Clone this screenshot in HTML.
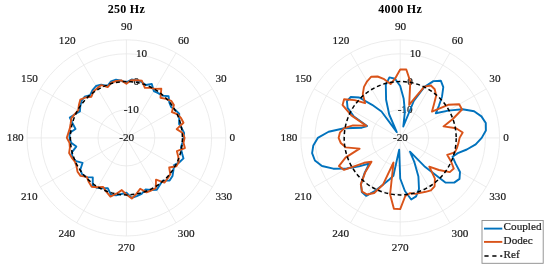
<!DOCTYPE html>
<html><head><meta charset="utf-8"><title>Polar directivity</title>
<style>
html,body{margin:0;padding:0;background:#fff;}
svg{display:block}
.lab text{font-family:"Liberation Serif",serif;font-size:11.2px;fill:#1a1a1a;stroke:#1a1a1a;stroke-width:0.2px}
.ttl{font-family:"Liberation Serif",serif;font-size:12px;font-weight:bold;fill:#000;letter-spacing:0.3px}
</style></head><body>
<svg width="550" height="271" viewBox="0 0 550 271">
<rect width="550" height="271" fill="#fff"/>
<g fill="none" stroke="#e7e7e7" stroke-width="0.8"><ellipse cx="126.4" cy="137.9" rx="28.40" ry="28.03"/><ellipse cx="126.4" cy="137.9" rx="56.80" ry="56.06"/><ellipse cx="126.4" cy="137.9" rx="85.20" ry="84.09"/><ellipse cx="126.4" cy="137.9" rx="99.40" ry="98.10"/><line x1="126.4" y1="137.9" x2="225.8" y2="137.9"/><line x1="126.4" y1="137.9" x2="212.5" y2="88.9"/><line x1="126.4" y1="137.9" x2="176.1" y2="52.9"/><line x1="126.4" y1="137.9" x2="126.4" y2="39.8"/><line x1="126.4" y1="137.9" x2="76.7" y2="52.9"/><line x1="126.4" y1="137.9" x2="40.3" y2="88.9"/><line x1="126.4" y1="137.9" x2="27.0" y2="137.9"/><line x1="126.4" y1="137.9" x2="40.3" y2="187.0"/><line x1="126.4" y1="137.9" x2="76.7" y2="222.9"/><line x1="126.4" y1="137.9" x2="126.4" y2="236.0"/><line x1="126.4" y1="137.9" x2="176.1" y2="222.9"/><line x1="126.4" y1="137.9" x2="212.5" y2="187.0"/></g><g class="lab" text-anchor="middle"><text x="232.2" y="140.7">0</text><text x="221.1" y="81.6">30</text><text x="183.6" y="44.0">60</text><text x="126.7" y="30.2">90</text><text x="67.2" y="44.3">120</text><text x="29.5" y="82.1">150</text><text x="15.2" y="140.7">180</text><text x="29.3" y="199.6">210</text><text x="66.8" y="237.3">240</text><text x="126.4" y="251.1">270</text><text x="186.2" y="237.0">300</text><text x="223.8" y="199.7">330</text><text x="141.5" y="56.5">10</text><text x="136.3" y="84.9">0</text><text x="131.3" y="112.8">-10</text><text x="126.7" y="140.8">-20</text></g><text class="ttl" text-anchor="middle" x="126.4" y="13">250 Hz</text>
<path d="M183.5 137.9 L184.1 132.9 L181.8 128.3 L179.1 124.0 L179.2 118.9 L179.2 113.6 L175.3 110.0 L171.1 107.0 L169.3 102.4 L168.6 96.3 L162.4 95.6 L158.2 93.1 L153.8 91.1 L151.8 84.0 L145.9 85.0 L141.6 81.9 L136.7 80.5 L131.6 79.5 L126.4 82.4 L121.3 80.7 L116.0 79.7 L111.0 81.3 L107.3 86.0 L101.2 84.6 L96.0 86.0 L92.5 90.1 L90.1 95.2 L84.6 96.7 L81.6 100.8 L80.3 106.1 L79.9 111.4 L74.9 114.2 L69.8 117.6 L72.9 123.8 L75.5 129.0 L69.5 133.0 L69.6 137.9 L71.2 142.7 L76.3 146.6 L71.8 152.3 L72.5 157.3 L76.0 161.1 L82.6 162.8 L80.3 169.7 L82.2 174.5 L86.6 177.1 L92.8 177.4 L92.7 185.4 L97.1 187.9 L102.6 188.2 L107.8 188.2 L111.0 194.8 L116.1 195.3 L121.4 194.0 L126.4 192.6 L131.7 197.9 L136.8 196.1 L141.6 193.9 L145.4 189.5 L151.0 190.0 L156.8 189.8 L159.8 185.0 L162.7 180.6 L169.6 180.5 L172.5 176.1 L173.4 170.4 L174.1 165.1 L179.4 162.3 L183.5 158.4 L181.8 152.6 L180.9 147.4 L182.4 142.7 Z" fill="none" stroke="#0072bd" stroke-width="1.9" stroke-linejoin="round"/><path d="M184.6 137.9 L182.7 133.0 L176.7 129.1 L183.5 122.8 L181.1 118.2 L177.6 114.3 L171.9 112.0 L173.9 105.1 L171.2 100.8 L166.0 98.9 L160.5 97.7 L161.3 88.8 L155.1 88.9 L150.0 87.9 L144.9 87.9 L141.9 80.8 L136.7 80.2 L131.5 80.1 L126.4 83.8 L121.3 80.4 L116.2 81.0 L111.4 82.7 L107.7 87.1 L101.4 85.1 L97.3 88.1 L93.5 91.5 L91.4 96.7 L85.4 97.5 L80.3 99.7 L78.9 105.1 L78.2 110.4 L74.7 114.1 L71.4 118.2 L70.7 123.2 L69.9 128.1 L68.4 132.9 L66.8 137.9 L69.5 142.8 L69.9 147.7 L69.1 153.1 L71.7 157.6 L74.9 161.6 L76.5 166.3 L77.5 171.7 L80.5 175.9 L86.8 176.9 L88.8 182.1 L91.7 186.8 L97.6 187.2 L103.2 186.9 L106.5 191.9 L110.4 196.6 L116.4 193.7 L121.8 190.1 L126.4 194.5 L131.8 198.5 L136.4 193.9 L140.2 188.8 L146.5 192.4 L151.2 190.5 L155.8 188.1 L156.0 179.7 L164.4 182.6 L167.6 178.5 L170.3 174.3 L169.2 167.5 L176.3 166.3 L178.9 162.1 L178.2 156.5 L176.9 151.2 L184.9 148.1 L183.5 142.8 Z" fill="none" stroke="#d95319" stroke-width="1.9" stroke-linejoin="round"/><ellipse cx="126.4" cy="138.2" rx="56.00" ry="56.70" fill="none" stroke="#000" stroke-width="1.5" stroke-dasharray="3.9 2.8"/>
<g fill="none" stroke="#e7e7e7" stroke-width="0.8"><ellipse cx="400.2" cy="137.9" rx="28.40" ry="28.03"/><ellipse cx="400.2" cy="137.9" rx="56.80" ry="56.06"/><ellipse cx="400.2" cy="137.9" rx="85.20" ry="84.09"/><ellipse cx="400.2" cy="137.9" rx="99.40" ry="98.10"/><line x1="400.2" y1="137.9" x2="499.6" y2="137.9"/><line x1="400.2" y1="137.9" x2="486.3" y2="88.9"/><line x1="400.2" y1="137.9" x2="449.9" y2="52.9"/><line x1="400.2" y1="137.9" x2="400.2" y2="39.8"/><line x1="400.2" y1="137.9" x2="350.5" y2="52.9"/><line x1="400.2" y1="137.9" x2="314.1" y2="88.9"/><line x1="400.2" y1="137.9" x2="300.8" y2="137.9"/><line x1="400.2" y1="137.9" x2="314.1" y2="187.0"/><line x1="400.2" y1="137.9" x2="350.5" y2="222.9"/><line x1="400.2" y1="137.9" x2="400.2" y2="236.0"/><line x1="400.2" y1="137.9" x2="449.9" y2="222.9"/><line x1="400.2" y1="137.9" x2="486.3" y2="187.0"/></g><g class="lab" text-anchor="middle"><text x="506.0" y="140.7">0</text><text x="494.9" y="81.6">30</text><text x="457.4" y="44.0">60</text><text x="400.5" y="30.2">90</text><text x="341.0" y="44.3">120</text><text x="303.3" y="82.1">150</text><text x="289.0" y="140.7">180</text><text x="303.1" y="199.6">210</text><text x="340.6" y="237.3">240</text><text x="400.2" y="251.1">270</text><text x="460.0" y="237.0">300</text><text x="497.6" y="199.7">330</text><text x="415.3" y="56.5">10</text><text x="410.1" y="84.9">0</text><text x="405.1" y="112.8">-10</text><text x="400.5" y="140.8">-20</text></g><text class="ttl" text-anchor="middle" x="400.2" y="13">4000 Hz</text>
<path d="M481.7 137.9 L485.9 130.5 L485.8 123.0 L481.4 116.4 L474.1 111.3 L462.5 109.2 L448.2 110.6 L435.8 113.3 L438.9 105.8 L442.0 96.7 L443.3 87.2 L440.8 80.7 L433.4 81.1 L424.2 87.1 L413.8 101.0 L403.3 126.5 L404.9 111.7 L403.7 98.8 L400.2 86.0 L395.0 78.7 L389.4 77.4 L385.8 84.8 L386.1 99.7 L389.2 114.5 L396.8 132.1 L381.5 111.5 L372.1 104.8 L359.2 97.5 L350.8 97.0 L346.9 101.1 L347.6 107.9 L353.9 116.6 L367.1 126.0 L361.8 127.7 L344.3 128.2 L328.6 131.7 L317.8 137.9 L313.3 145.4 L312.1 153.2 L314.9 160.5 L322.0 166.0 L333.3 168.7 L346.6 168.5 L359.0 166.4 L369.3 163.5 L364.5 173.2 L361.0 184.1 L361.8 192.1 L366.3 195.9 L375.2 190.7 L382.9 184.8 L388.7 180.1 L393.4 175.7 L399.2 149.6 L400.2 178.5 L404.9 191.0 L411.2 199.5 L416.1 196.4 L419.0 189.0 L418.4 176.5 L414.4 162.2 L410.0 151.7 L424.3 166.2 L445.4 182.5 L454.2 182.6 L459.5 178.9 L460.0 172.0 L455.5 163.4 L452.5 156.7 L457.8 153.1 L466.8 149.5 L475.7 144.4 Z" fill="none" stroke="#0072bd" stroke-width="1.9" stroke-linejoin="round"/><path d="M459.6 137.9 L462.7 132.5 L456.1 128.2 L443.5 126.4 L452.8 119.0 L462.0 109.5 L459.2 104.3 L448.1 104.8 L432.0 111.6 L433.9 104.6 L436.2 95.6 L434.7 89.2 L430.9 85.5 L424.4 86.6 L415.1 97.6 L409.2 104.9 L410.3 81.6 L406.3 69.5 L400.2 69.5 L395.0 78.7 L390.6 84.1 L384.2 79.2 L377.6 76.5 L371.3 76.7 L367.1 81.3 L364.0 86.9 L362.8 93.9 L365.1 103.2 L354.5 100.1 L344.1 99.2 L342.6 105.1 L351.3 115.4 L366.3 125.7 L353.0 125.4 L344.3 128.2 L339.9 132.7 L338.6 137.9 L340.8 143.0 L345.7 147.4 L359.6 148.6 L345.5 157.6 L338.9 166.1 L344.1 169.9 L364.1 162.8 L371.5 161.7 L365.1 172.6 L360.8 184.3 L362.1 191.6 L367.1 194.5 L374.2 193.0 L382.9 184.8 L393.5 162.5 L390.1 194.5 L393.9 208.8 L400.2 209.1 L405.3 196.0 L410.1 193.1 L415.4 193.9 L420.5 192.9 L425.6 191.8 L430.9 190.3 L434.6 186.3 L434.9 178.7 L429.3 166.6 L438.9 170.0 L449.8 172.1 L453.8 168.5 L450.9 161.2 L447.2 154.8 L454.8 152.3 L457.0 147.8 L458.5 142.9 Z" fill="none" stroke="#d95319" stroke-width="1.9" stroke-linejoin="round"/><ellipse cx="400.2" cy="138.2" rx="56.00" ry="56.70" fill="none" stroke="#000" stroke-width="1.5" stroke-dasharray="3.9 2.8"/>
<g>
<rect x="482" y="220.5" width="61.2" height="42.8" fill="#fff" stroke="#8a8a8a" stroke-width="0.9"/>
<line x1="484" y1="228.6" x2="502.3" y2="228.6" stroke="#0072bd" stroke-width="1.9"/>
<line x1="484" y1="241.9" x2="502.3" y2="241.9" stroke="#d95319" stroke-width="1.9"/>
<line x1="484.4" y1="256" x2="502.3" y2="256" stroke="#000" stroke-width="1.4" stroke-dasharray="4.2 3.7"/>
<g class="lab"><text x="503.6" y="230.3">Coupled</text><text x="503.6" y="244">Dodec</text><text x="503.6" y="257.7">Ref</text></g>
</g>
</svg>
</body></html>
